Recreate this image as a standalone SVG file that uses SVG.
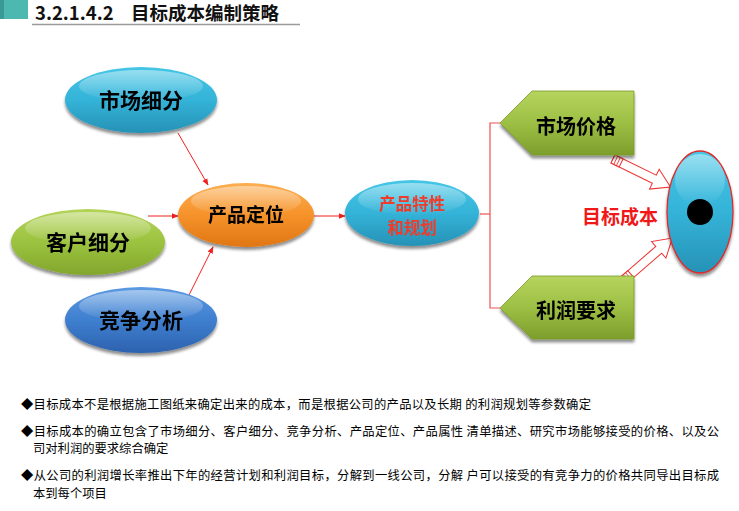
<svg xmlns="http://www.w3.org/2000/svg" width="739" height="511" viewBox="0 0 739 511">
<style>
.lbl{font-family:"Noto Sans CJK SC","Liberation Sans",sans-serif;font-weight:bold;text-anchor:middle;}
.ttl{font-family:"Noto Sans CJK SC","Liberation Sans",sans-serif;font-weight:bold;font-size:18.5px;fill:#111;}
.body{font-family:"Noto Sans CJK SC","Liberation Sans",sans-serif;font-size:12.3px;fill:#000;}
.conn{stroke:#f02020;stroke-width:1;fill:none;}
.brk{stroke:#f05050;stroke-width:1.2;fill:none;}
.hollow{fill:#fff;stroke:#f03030;stroke-width:1;}
</style>
<defs>
<linearGradient id="gCyan" x1="0" y1="0" x2="0" y2="1"><stop offset="0" stop-color="#45c6e6"/><stop offset="0.5" stop-color="#34b3d8"/><stop offset="1" stop-color="#2692b6"/></linearGradient>
<linearGradient id="gGreen" x1="0" y1="0" x2="0" y2="1"><stop offset="0" stop-color="#b4d458"/><stop offset="0.5" stop-color="#9cc340"/><stop offset="1" stop-color="#82a62c"/></linearGradient>
<linearGradient id="gBlue" x1="0" y1="0" x2="0" y2="1"><stop offset="0" stop-color="#5b9ae2"/><stop offset="0.5" stop-color="#3f7fcf"/><stop offset="1" stop-color="#2c62ae"/></linearGradient>
<linearGradient id="gOrange" x1="0" y1="0" x2="0" y2="1"><stop offset="0" stop-color="#fcae50"/><stop offset="0.5" stop-color="#f6922a"/><stop offset="1" stop-color="#e07612"/></linearGradient>
<linearGradient id="gPent" x1="0" y1="0" x2="0" y2="1"><stop offset="0" stop-color="#b6d45e"/><stop offset="0.5" stop-color="#9dbf44"/><stop offset="1" stop-color="#7e9e2c"/></linearGradient>
<linearGradient id="gGloss" x1="0" y1="0" x2="0" y2="1"><stop offset="0" stop-color="#fff" stop-opacity="0.45"/><stop offset="1" stop-color="#fff" stop-opacity="0"/></linearGradient>
<filter id="sh" x="-20%" y="-20%" width="140%" height="150%"><feGaussianBlur in="SourceAlpha" stdDeviation="1.6"/><feOffset dx="0" dy="2.5" result="b"/><feComponentTransfer><feFuncA type="linear" slope="0.45"/></feComponentTransfer><feMerge><feMergeNode/><feMergeNode in="SourceGraphic"/></feMerge></filter>
<marker id="ah" viewBox="0 0 10 10" refX="9" refY="5" markerWidth="7" markerHeight="7" orient="auto" markerUnits="userSpaceOnUse"><path d="M0,1 L10,5 L0,9 z" fill="#f02020"/></marker>
<g id="hollowArrow">
<polygon class="hollow" points="0,-4.5 46,-4.5 46,-11 64,0 46,11 46,4.5 0,4.5"/>
<polygon class="hollow" points="0,-4.5 9,-4.5 9,4.5 0,4.5"/>
<line x1="3" y1="-4.5" x2="3" y2="4.5" stroke="#f03030" stroke-width="0.8"/>
<line x1="6" y1="-4.5" x2="6" y2="4.5" stroke="#f03030" stroke-width="0.8"/>
</g>
</defs>

<g id="header">
<rect x="0" y="0" width="28" height="19" fill="#4cb8b0"/>
<rect x="0" y="0" width="4" height="19" fill="#3a9a94"/>
<text class="ttl" x="35" y="20">3.2.1.4.2</text>
<text class="ttl" x="131" y="20">目标成本编制策略</text>
<line x1="32" y1="24.5" x2="300" y2="24.5" stroke="#9a9a9a" stroke-width="1.5"/>
</g>

<g id="connectors">
<line class="conn" x1="178" y1="133" x2="208" y2="185" marker-end="url(#ah)"/>
<line class="conn" x1="148" y1="216" x2="178" y2="216" marker-end="url(#ah)"/>
<line class="conn" x1="189" y1="295" x2="213" y2="247" marker-end="url(#ah)"/>
<line class="conn" x1="314" y1="216" x2="345" y2="216" marker-end="url(#ah)"/>
<polyline class="brk" points="480,214 490,214"/>
<polyline class="brk" points="500,123 490,123 490,308 500,308"/>
<use href="#hollowArrow" transform="translate(613,159) rotate(26)"/>
<use href="#hollowArrow" transform="translate(624,280) rotate(-41)"/>
</g>

<g id="n-shichangxifen" filter="url(#sh)">
<ellipse cx="141" cy="100" rx="76" ry="33" fill="url(#gCyan)"/>
<ellipse cx="141" cy="86" rx="62" ry="16" fill="url(#gGloss)"/>
<text class="lbl" x="141" y="108" font-size="21">市场细分</text>
</g>
<g id="n-kehuxifen" filter="url(#sh)">
<ellipse cx="88" cy="242" rx="77" ry="33" fill="url(#gGreen)"/>
<ellipse cx="88" cy="228" rx="63" ry="16" fill="url(#gGloss)"/>
<text class="lbl" x="88" y="250" font-size="21">客户细分</text>
</g>
<g id="n-jingzhengfenxi" filter="url(#sh)">
<ellipse cx="141" cy="320" rx="76" ry="33" fill="url(#gBlue)"/>
<ellipse cx="141" cy="306" rx="62" ry="16" fill="url(#gGloss)"/>
<text class="lbl" x="141" y="328" font-size="21">竞争分析</text>
</g>
<g id="n-chanpindingwei" filter="url(#sh)">
<ellipse cx="246" cy="215" rx="68" ry="32" fill="url(#gOrange)"/>
<ellipse cx="246" cy="201" rx="55" ry="15" fill="url(#gGloss)"/>
<text class="lbl" x="246" y="222" font-size="19">产品定位</text>
</g>
<g id="n-chanpintexing" filter="url(#sh)">
<ellipse cx="412" cy="213" rx="67" ry="33" fill="url(#gCyan)"/>
<ellipse cx="412" cy="199" rx="54" ry="16" fill="url(#gGloss)"/>
<text class="lbl" x="412" y="210" font-size="16.5" fill="#f03a2a">产品特性</text>
<text class="lbl" x="412" y="234" font-size="16.5" fill="#f03a2a">和规划</text>
</g>
<g id="n-shichangjiage" filter="url(#sh)">
<polygon points="500,123 532,91 634,91 634,155 532,155" fill="url(#gPent)" stroke="#7a9a2a" stroke-width="0.8"/>
<text class="lbl" x="576" y="134" font-size="20">市场价格</text>
</g>
<g id="n-lirunyaoqiu" filter="url(#sh)">
<polygon points="500,308 532,276 634,276 634,339 532,339" fill="url(#gPent)" stroke="#7a9a2a" stroke-width="0.8"/>
<text class="lbl" x="576" y="318" font-size="20">利润要求</text>
</g>
<g id="n-mubiaochengben">
<text class="lbl" x="620" y="224" font-size="19" fill="#f01818">目标成本</text>
</g>
<g id="n-eye" filter="url(#sh)">
<ellipse cx="700" cy="212" rx="33" ry="61" fill="url(#gCyan)" stroke="#e02a2a" stroke-width="1.3"/>
<ellipse cx="700" cy="180" rx="25" ry="26" fill="url(#gGloss)"/>
<circle cx="700" cy="212" r="13" fill="#000"/>
</g>

<g id="notes">
<text class="body" x="21" y="409" textLength="570" lengthAdjust="spacing">◆目标成本不是根据施工图纸来确定出来的成本，而是根据公司的产品以及长期 的利润规划等参数确定</text>
<text class="body" x="21" y="436" textLength="698" lengthAdjust="spacing">◆目标成本的确立包含了市场细分、客户细分、竞争分析、产品定位、产品属性 清单描述、研究市场能够接受的价格、以及公</text>
<text class="body" x="33" y="453">司对利润的要求综合确定</text>
<text class="body" x="21" y="480" textLength="698" lengthAdjust="spacing">◆从公司的利润增长率推出下年的经营计划和利润目标，分解到一线公司，分解 户可以接受的有竞争力的价格共同导出目标成</text>
<text class="body" x="33" y="498">本到每个项目</text>
</g>
</svg>
